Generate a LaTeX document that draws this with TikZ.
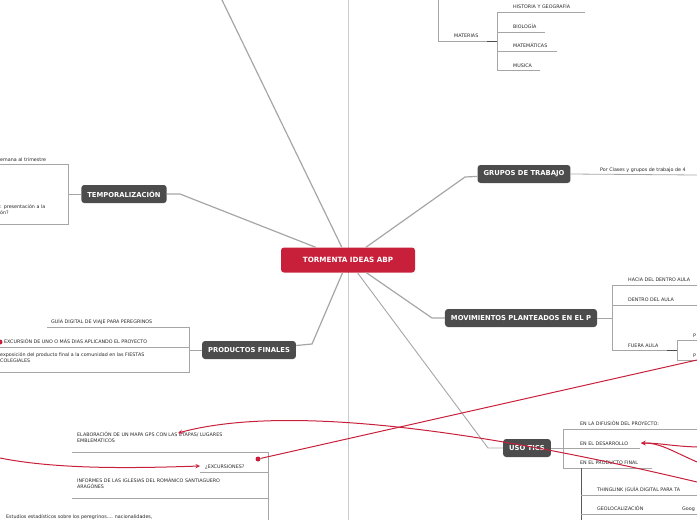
\documentclass[tikz,border=0pt]{standalone}
\usepackage{fontspec}
\setmainfont{DejaVu Sans}
\definecolor{crim}{HTML}{C8203A}
\begin{document}
\begin{tikzpicture}[x=1pt,y=-1pt,
  dark/.style={fill=black!70,text=white,rounded corners=3pt,font=\fontsize{6.8}{7}\selectfont\bfseries,minimum height=18,inner xsep=6pt},
  root/.style={fill=crim,text=white,rounded corners=3pt,font=\fontsize{7.2}{8}\selectfont\bfseries,minimum height=25,minimum width=134},
  lbl/.style={anchor=base west,inner sep=0,font=\fontsize{4.8}{6}\selectfont,text=black!85,align=left},
  br/.style={draw=black!35,line width=0.8pt},
  spoke/.style={draw=black!35,line width=1.2pt},
  rl/.style={draw=crim,line width=1pt},
  dot/.style={circle,fill=crim,inner sep=0,minimum size=5}]
\useasboundingbox (0,0) rectangle (697,520);
\clip (0,0) rectangle (697,520);
\draw[black!20,line width=0.8pt] (348,0) -- (348,520);
\node[root] (c) at (348,260) {TORMENTA IDEAS ABP};
\coordinate (top) at (222,0);
\draw[spoke] (c) -- (top);
\node[dark] (g) at (524,174) {GRUPOS DE TRABAJO};
\node[dark] (t) at (124,194) {TEMPORALIZACIÓN};
\node[dark] (p) at (249,350) {PRODUCTOS FINALES};
\node[dark] (m) at (521,318) {MOVIMIENTOS PLANTEADOS EN EL P};
\node[dark] (u) at (527,448) {USO TICS};
\draw[spoke] (c) -- (465,177) -- (g);
\draw[spoke] (c) -- (180,194) -- (t);
\draw[spoke] (c) -- (312,344) -- (p);
\draw[spoke] (c) -- (432,318) -- (m);
\draw[spoke,line width=0.9pt] (c) -- (488,448) -- (u);
\draw[br] (438,0) -- (438,41) -- (487,41);
\node[lbl] (mat) at (454,37) {MATERIAS};
\draw[black!70,line width=1pt] (487,41) -- (497,41);
\draw[br] (497,12) -- (497,70);
\node[lbl] (h) at (513,8) {HISTORIA Y GEOGRAFÍA}; \draw[br] (497,12) -- (585,12);
\node[lbl] (b) at (513,28) {BIOLOGÍA}; \draw[br] (497,32) -- (545,32);
\node[lbl] (ma) at (513,47) {MATEMÁTICAS}; \draw[br] (497,51) -- (557,51);
\node[lbl] (mu) at (513,67) {MUSICA}; \draw[br] (497,70) -- (540,70);
\draw[br] (g.east) -- (697,175);
\node[lbl] (gt) at (600,171) {Por Clases y grupos de trabajo de 4};
\draw[br] (t.west) -- (68,194);
\draw[br] (0,164) -- (68,164) -- (68,224) -- (0,224);
\node[lbl] (t1) at (0,161) {emana al trimestre};
\node[lbl] (t2) at (0,214) {: presentación a la\\ón?};
\draw[br] (p.west) -- (189,350);
\draw[br] (47,327) -- (189,327) -- (189,372) -- (0,372);
\draw[br] (0,347) -- (189,347);
\node[lbl] (p1) at (51,323) {GUÍA DIGITAL DE VIAJE PARA PEREGRINOS};
\node[lbl] (p2) at (4,343) {EXCURSIÓN DE UNO O MÁS DIAS APLICANDO EL PROYECTO};
\node[dot] (d1) at (0,342) {};
\node[lbl] (p3) at (0,362) {exposición del producto final a la comunidad en las FIESTAS\\COLEGIALES};
\draw[br] (m.east) -- (612,318);
\draw[br] (612,285) -- (612,350);
\draw[br] (612,285) -- (697,285);
\draw[br] (612,305) -- (697,305);
\draw[br] (612,350) -- (667,350);
\node[lbl] (m1) at (628,281) {HACIA DEL DENTRO AULA};
\node[lbl] (m2) at (628,301) {DENTRO DEL AULA};
\node[lbl] (m3) at (628,347) {FUERA AULA};
\draw[black!70,line width=1pt] (667,350) -- (677,350);
\draw[br] (697,340) -- (677,340) -- (677,360) -- (697,360);
\node[lbl] (m4) at (693,337) {P};
\node[lbl] (m5) at (693,357) {P};
\draw[br] (u.east) -- (563,448);
\draw[br] (697,429) -- (563,429) -- (563,468) -- (652,468);
\draw[br] (563,448) -- (640,448);
\node[lbl] (u1) at (580,425) {EN LA DIFUSIÓN DEL PROYECTO:};
\node[lbl] (u2) at (580,445) {EN EL DESARROLLO};
\node[lbl] (u3) at (580,464) {EN EL PRODUCTO FINAL};
\draw[black!65,line width=1pt] (581,468) -- (581,520);
\draw[br] (581,495) -- (697,495);
\draw[br] (581,514) -- (697,514);
\node[lbl] (u4) at (597,491) {THINGLINK (GUÍA DIGITAL PARA TA};
\node[lbl] (u5) at (597,510) {GEOLOCALIZACIÓN};
\node[lbl] (u6) at (682,510) {Goog};
\draw[br] (72,452) -- (268,452) -- (268,520);
\draw[br] (200,472) -- (268,472);
\draw[br] (72,498) -- (268,498);
\node[lbl] (e1) at (77,442) {ELABORACIÓN DE UN MAPA GPS CON LAS ETAPAS/ LUGARES\\EMBLEMATICOS};
\node[lbl] (e2) at (205,468) {¿EXCURSIONES?};
\node[lbl] (e3) at (77,488) {INFORMES DE LAS IGLESIAS DEL ROMÁNICO SANTIAGUERO\\ARAGÓNES};
\node[lbl] (e4) at (6,518) {Estudios estadísticos sobre los peregrinos....  nacionalidades,};
\node[dot] (d2) at (258,459) {};
\coordinate (r1) at (697,360);
\draw[rl] (d2) -- (r1);
\coordinate (l1) at (0,458);
\draw[rl,-stealth] (l1) .. controls (60,470) and (140,468) .. (200,466);
\coordinate (r2) at (697,482);
\draw[rl,-stealth] (r2) .. controls (520,440) and (300,400) .. (178,433);
\coordinate (r3) at (697,447);
\coordinate (r4) at (697,462);
\draw[rl,-stealth] (r3) .. controls (670,446) and (660,443) .. (641,443);
\draw[rl,-stealth] (r4) .. controls (670,450) and (660,443) .. (641,443);
\end{tikzpicture}
\end{document}
